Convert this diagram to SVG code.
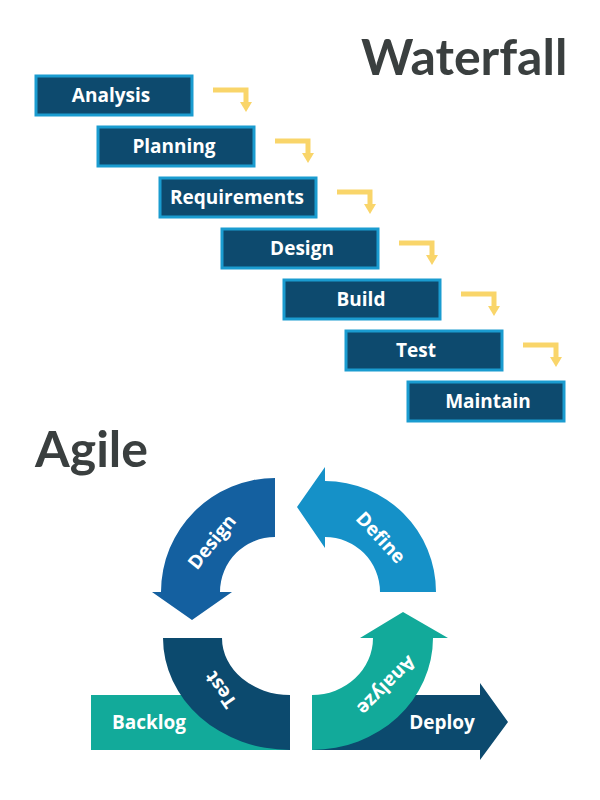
<svg xmlns="http://www.w3.org/2000/svg" width="600" height="800" viewBox="0 0 600 800">
<style>
.box rect{fill:#0d4a6e;stroke:#1a9cd0;stroke-width:3}
.box text,.lbl{font-family:"Open Sans","Liberation Sans",sans-serif;font-weight:bold;fill:#fff;font-size:19px;text-anchor:middle}
.title{font-family:Lato,"Liberation Sans",sans-serif;font-weight:bold;fill:#3a3f3f;font-size:50px}
.yc{fill:none;stroke:#f9d56a;stroke-width:5}
.yh{fill:#f9d56a}
</style>
<rect width="600" height="800" fill="#fff"/>
<text class="title" x="361" y="75">Waterfall</text>
<text class="title" x="35" y="467">Agile</text>
<g id="connectors">
<path class="yc" d="M213,90 H246 V104"/><path class="yh" d="M240,102 H252 L246,112 Z"/>
<path class="yc" d="M275,141 H308 V155"/><path class="yh" d="M302,153 H314 L308,163 Z"/>
<path class="yc" d="M337,192 H370 V206"/><path class="yh" d="M364,204 H376 L370,214 Z"/>
<path class="yc" d="M399,243 H432 V257"/><path class="yh" d="M426,255 H438 L432,265 Z"/>
<path class="yc" d="M461,294 H494 V308"/><path class="yh" d="M488,306 H500 L494,316 Z"/>
<path class="yc" d="M523,345 H556 V359"/><path class="yh" d="M550,357 H562 L556,367 Z"/>
</g>
<g id="analysis" class="box"><rect x="36" y="76" width="156" height="39"/><text x="111" y="102">Analysis</text></g>
<g id="planning" class="box"><rect x="98" y="127" width="156" height="39"/><text x="174" y="153">Planning</text></g>
<g id="requirements" class="box"><rect x="160" y="178" width="156" height="39"/><text x="237" y="204">Requirements</text></g>
<g id="design-w" class="box"><rect x="222" y="229" width="156" height="39"/><text x="302" y="255">Design</text></g>
<g id="build" class="box"><rect x="284" y="280" width="156" height="39"/><text x="361" y="306">Build</text></g>
<g id="test-w" class="box"><rect x="346" y="331" width="156" height="39"/><text x="416" y="357">Test</text></g>
<g id="maintain" class="box"><rect x="408" y="382" width="156" height="39"/><text x="488" y="408">Maintain</text></g>
<g id="backlog"><rect x="91" y="695" width="199" height="55" fill="#12aa9a"/><text class="lbl" x="149" y="729">Backlog</text></g>
<g id="deploy"><path d="M312,695 H480 V683 L508,722 L480,760 V750 H312 Z" fill="#0c4a6e"/><text class="lbl" x="442" y="729">Deploy</text></g>
<g id="design-a"><path d="M275,478 A114,114 0 0 0 161,592 L152,592 L192,620 L232,592 L220,592 A55,55 0 0 1 275,537 Z" fill="#1460a0"/><text class="lbl" transform="translate(217,546) rotate(-51)">Design</text></g>
<g id="define"><path d="M325,481 A111,111 0 0 1 436,592 L380,592 A55,55 0 0 0 325,537 L325,548 L297,507 L325,467 Z" fill="#1591c8"/><text class="lbl" transform="translate(376,542) rotate(47)">Define</text></g>
<g id="test-a"><path d="M163,638 L222,638 A68,57 0 0 0 290,695 L290,750 A127,112 0 0 1 163,638 Z" fill="#0c4a6e"/><text class="lbl" transform="translate(226,686) rotate(-125)">Test</text></g>
<g id="analyze"><path d="M312,750 A121,112 0 0 0 433,638 L448,638 L403,612 L360,638 L373,638 A61,57 0 0 1 312,695 Z" fill="#12aa9a"/><text class="lbl" transform="translate(382,681) rotate(135)">Analyze</text></g>
</svg>
